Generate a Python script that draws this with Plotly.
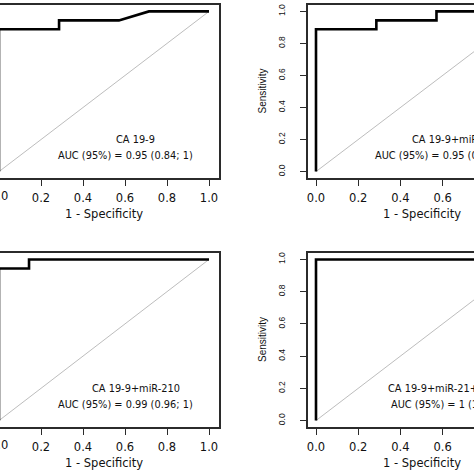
import plotly.graph_objects as go

W, H = 474, 474

# ROC points (1 - specificity, sensitivity)
fpr_ca199 = [0, 0, 0.286, 0.286, 0.571, 0.714, 1.0]
tpr_ca199 = [0, 0.889, 0.889, 0.944, 0.944, 1.0, 1.0]

fpr_ca199_mir21 = [0, 0, 0.286, 0.286, 0.571, 0.571, 1.0]
tpr_ca199_mir21 = [0, 0.889, 0.889, 0.944, 0.944, 1.0, 1.0]

fpr_ca199_mir210 = [0, 0, 0.143, 0.143, 1.0]
tpr_ca199_mir210 = [0, 0.944, 0.944, 1.0, 1.0]

fpr_ca199_both = [0, 0, 1.0]
tpr_ca199_both = [0, 1.0, 1.0]

diag = [0, 1]

panel_names = ["CA 19-9", "CA 19-9+miR-21", "CA 19-9+miR-210", "CA 19-9+miR-21+miR-210"]
auc_labels = [
    "AUC (95%) = 0.95 (0.84; 1)",
    "AUC (95%) = 0.95 (0.87; 1)",
    "AUC (95%) = 0.99 (0.96; 1)",
    "AUC (95%) = 1 (1; 1)",
]
tick_vals = [0, 0.2, 0.4, 0.6, 0.8, 1.0]
tick_text = ["0.0", "0.2", "0.4", "0.6", "0.8", "1.0"]

curves = [
    (fpr_ca199, tpr_ca199),
    (fpr_ca199_mir21, tpr_ca199_mir21),
    (fpr_ca199_mir210, tpr_ca199_mir210),
    (fpr_ca199_both, tpr_ca199_both),
]


def px_x(p):
    return p / W


def px_y(p):
    return 1 - p / H


# pixel boxes of the four frames: x span, y span (top, bottom), and x range
panels = [
    dict(xd=(0, 219), yd=(5, 178), xr=[0.00476, 1.0476], left=True),
    dict(xd=(308, 474), yd=(5, 178), xr=[-0.0379, 0.7488], left=False),
    dict(xd=(0, 219), yd=(253, 427), xr=[0.00476, 1.0476], left=True),
    dict(xd=(308, 474), yd=(253, 427), xr=[-0.0379, 0.7488], left=False),
]

fig = go.Figure()
font_main = "DejaVu Sans"
line_col = "#2b2b2b"
text_col = "#111111"
annotations = []
axes = {}

for i, (p, (fx, ty)) in enumerate(zip(panels, curves)):
    n = "" if i == 0 else str(i + 1)
    xa, ya = "x" + n, "y" + n

    fig.add_trace(go.Scatter(x=diag, y=diag, mode="lines", xaxis=xa, yaxis=ya,
                             line=dict(color="#bdbdbd", width=1), showlegend=False,
                             hoverinfo="skip"))
    fig.add_trace(go.Scatter(x=fx, y=ty, mode="lines", xaxis=xa, yaxis=ya,
                             line=dict(color="black", width=2.6), showlegend=False))

    axes["xaxis" + n] = dict(
        domain=[px_x(p["xd"][0]), px_x(p["xd"][1])], range=p["xr"], anchor=ya,
        showline=True, mirror=True, linecolor=line_col, linewidth=1.5,
        showgrid=False, zeroline=False, ticks="outside", ticklen=6,
        tickcolor=line_col, tickwidth=1.2, tickvals=tick_vals, ticktext=tick_text,
        ticklabelstandoff=2, tickfont=dict(family=font_main, size=11.5, color=text_col),
    )
    yax = dict(
        domain=[px_y(p["yd"][1]), px_y(p["yd"][0])], range=[-0.04, 1.04], anchor=xa,
        showline=True, linecolor=line_col, linewidth=1.5,
        showgrid=False, zeroline=False,
    )
    if p["left"]:
        yax.update(side="right", ticks="", showticklabels=False)
    else:
        yax.update(side="left", ticks="outside", ticklen=6, tickcolor=line_col,
                   tickwidth=1.2, tickvals=tick_vals, ticktext=tick_text, tickangle=-90,
                   ticklabelstandoff=12,
                   tickfont=dict(family="Liberation Sans", size=8.5, color=text_col))
        annotations.append(dict(
            text="Sensitivity", xref="paper", yref="paper", x=px_x(262),
            y=px_y((p["yd"][0] + p["yd"][1]) / 2), showarrow=False, textangle=-90,
            xanchor="center", yanchor="middle",
            font=dict(family="Liberation Sans", size=10, color=text_col)))
    axes["yaxis" + n] = yax

    annotations.append(dict(
        text="1 - Specificity", xref=xa, yref="paper", x=0.5,
        y=px_y(p["yd"][1] + 36), showarrow=False, xanchor="center", yanchor="middle",
        font=dict(family=font_main, size=11.5, color=text_col)))
    annotations.append(dict(
        text=panel_names[i], xref=xa, yref=ya, x=0.65, y=0.2, showarrow=False,
        xanchor="center", yanchor="middle",
        font=dict(family=font_main, size=9.8, color=text_col)))
    annotations.append(dict(
        text=auc_labels[i], xref=xa, yref=ya, x=0.6, y=0.1, showarrow=False,
        xanchor="center", yanchor="middle",
        font=dict(family=font_main, size=9.8, color=text_col)))
    if p["left"]:
        # the 0.0 label sits on the cut edge of the left panels
        annotations.append(dict(
            text="0.0", xref="paper", yref="paper", x=px_x(-1),
            y=px_y(p["yd"][1] + 18), showarrow=False, xanchor="center",
            yanchor="middle", font=dict(family=font_main, size=11.5, color=text_col)))

fig.update_layout(
    width=W, height=H,
    margin=dict(l=0, r=0, t=0, b=0),
    paper_bgcolor="white", plot_bgcolor="white",
    annotations=annotations,
    **axes,
)

# page body has an 8px margin by default; drop it so the figure fills the window
fig.write_html("out.html", config={"displayModeBar": False},
               post_script="document.body.style.margin='0';")
